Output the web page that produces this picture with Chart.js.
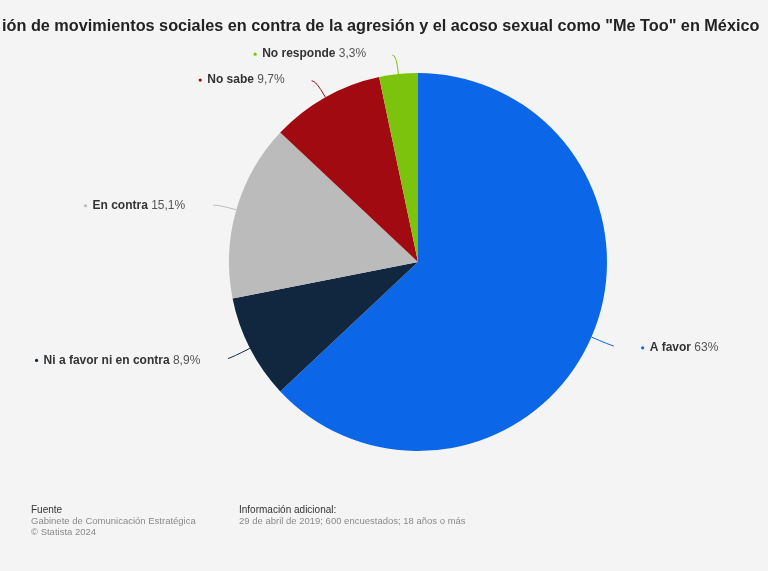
<!DOCTYPE html>
<html>
<head>
<meta charset="utf-8">
<script src="https://cdn.jsdelivr.net/npm/chart.js@4"></script>
<style>
  html, body { margin: 0; padding: 0; background: #f4f4f4; }
  #wrap { width: 768px; height: 571px; position: relative; }
</style>
</head>
<body>
<div id="wrap"><canvas id="pie"></canvas></div>
<script>
const labels = ["A favor", "Ni a favor ni en contra", "En contra", "No sabe", "No responde"];
const values = [63, 8.9, 15.1, 9.7, 3.3];
const valueTexts = ["63%", "8,9%", "15,1%", "9,7%", "3,3%"];
const colors = ["#0b67e7", "#11263f", "#bbbbbb", "#a20a12", "#7cc30e"];

const titleText = 'ión de movimientos sociales en contra de la agresión y el acoso sexual como "Me Too" en México';
const FONT = "'Liberation Sans', Arial, Helvetica, sans-serif";

// title, connectors, labels and footer
const decor = {
    id: "decor",
    afterDraw(chart) {
        const ctx = chart.ctx;
        ctx.save();

        // shrink the title until it spans the visible width
        let size = 17;
        ctx.font = "bold " + size + "px " + FONT;
        while (ctx.measureText(titleText).width > 759 && size > 10) {
            size -= 0.25;
            ctx.font = "bold " + size + "px " + FONT;
        }
        ctx.fillStyle = "#222";
        ctx.textAlign = "left";
        ctx.textBaseline = "middle";
        ctx.fillText(titleText, 2, 27);

        const arcs = chart.getDatasetMeta(0).data;
        arcs.forEach((arc, i) => {
            const mid = (arc.startAngle + arc.endAngle) / 2;
            const cx = arc.x, cy = arc.y, r = arc.outerRadius;
            const dx = Math.cos(mid), dy = Math.sin(mid);
            const right = dx >= 0;
            const x0 = cx + r * dx, y0 = cy + r * dy;
            const x1 = cx + (r + 20) * dx, y1 = cy + (r + 20) * dy;
            const x2 = x1 + (right ? 4 : -4), y2 = y1 + 1;

            ctx.strokeStyle = colors[i];
            ctx.lineWidth = 1;
            ctx.beginPath();
            ctx.moveTo(x0, y0);
            ctx.quadraticCurveTo(x1, y1, x2, y2);
            ctx.stroke();

            const ly = cy + (r + 22) * dy + 2;
            const lx = cx + (r + 22) * dx + (right ? 38 : -30);

            ctx.font = "bold 12px " + FONT;
            const wName = ctx.measureText(labels[i]).width;
            ctx.font = "12px " + FONT;
            const wVal = ctx.measureText(" " + valueTexts[i]).width;
            const start = right ? lx : lx - wName - wVal;

            ctx.fillStyle = colors[i];
            ctx.beginPath();
            ctx.arc(start - 7, ly, 1.6, 0, Math.PI * 2);
            ctx.fill();

            ctx.textAlign = "left";
            ctx.fillStyle = "#333";
            ctx.font = "bold 12px " + FONT;
            ctx.fillText(labels[i], start, ly);
            ctx.fillStyle = "#555";
            ctx.font = "12px " + FONT;
            ctx.fillText(" " + valueTexts[i], start + wName, ly);
        });

        ctx.textAlign = "left";
        ctx.font = "10px " + FONT;
        ctx.fillStyle = "#333";
        ctx.fillText("Fuente", 31, 510);
        ctx.fillText("Información adicional:", 239, 510);
        ctx.font = "9.5px " + FONT;
        ctx.fillStyle = "#8a8a8a";
        ctx.fillText("Gabinete de Comunicación Estratégica", 31, 521);
        ctx.fillText("© Statista 2024", 31, 532);
        ctx.fillText("29 de abril de 2019; 600 encuestados; 18 años o más", 239, 521);
        ctx.restore();
    }
};

new Chart(document.getElementById("pie"), {
    type: "pie",
    data: {
        labels,
        datasets: [{
            data: values,
            backgroundColor: colors,
            borderWidth: 0
        }]
    },
    options: {
        responsive: true,
        maintainAspectRatio: false,
        animation: false,
        layout: { padding: { left: 68, right: 0, top: 73, bottom: 120 } },
        plugins: {
            legend: { display: false },
            tooltip: { enabled: false }
        }
    },
    plugins: [decor]
});
</script>
</body>
</html>
